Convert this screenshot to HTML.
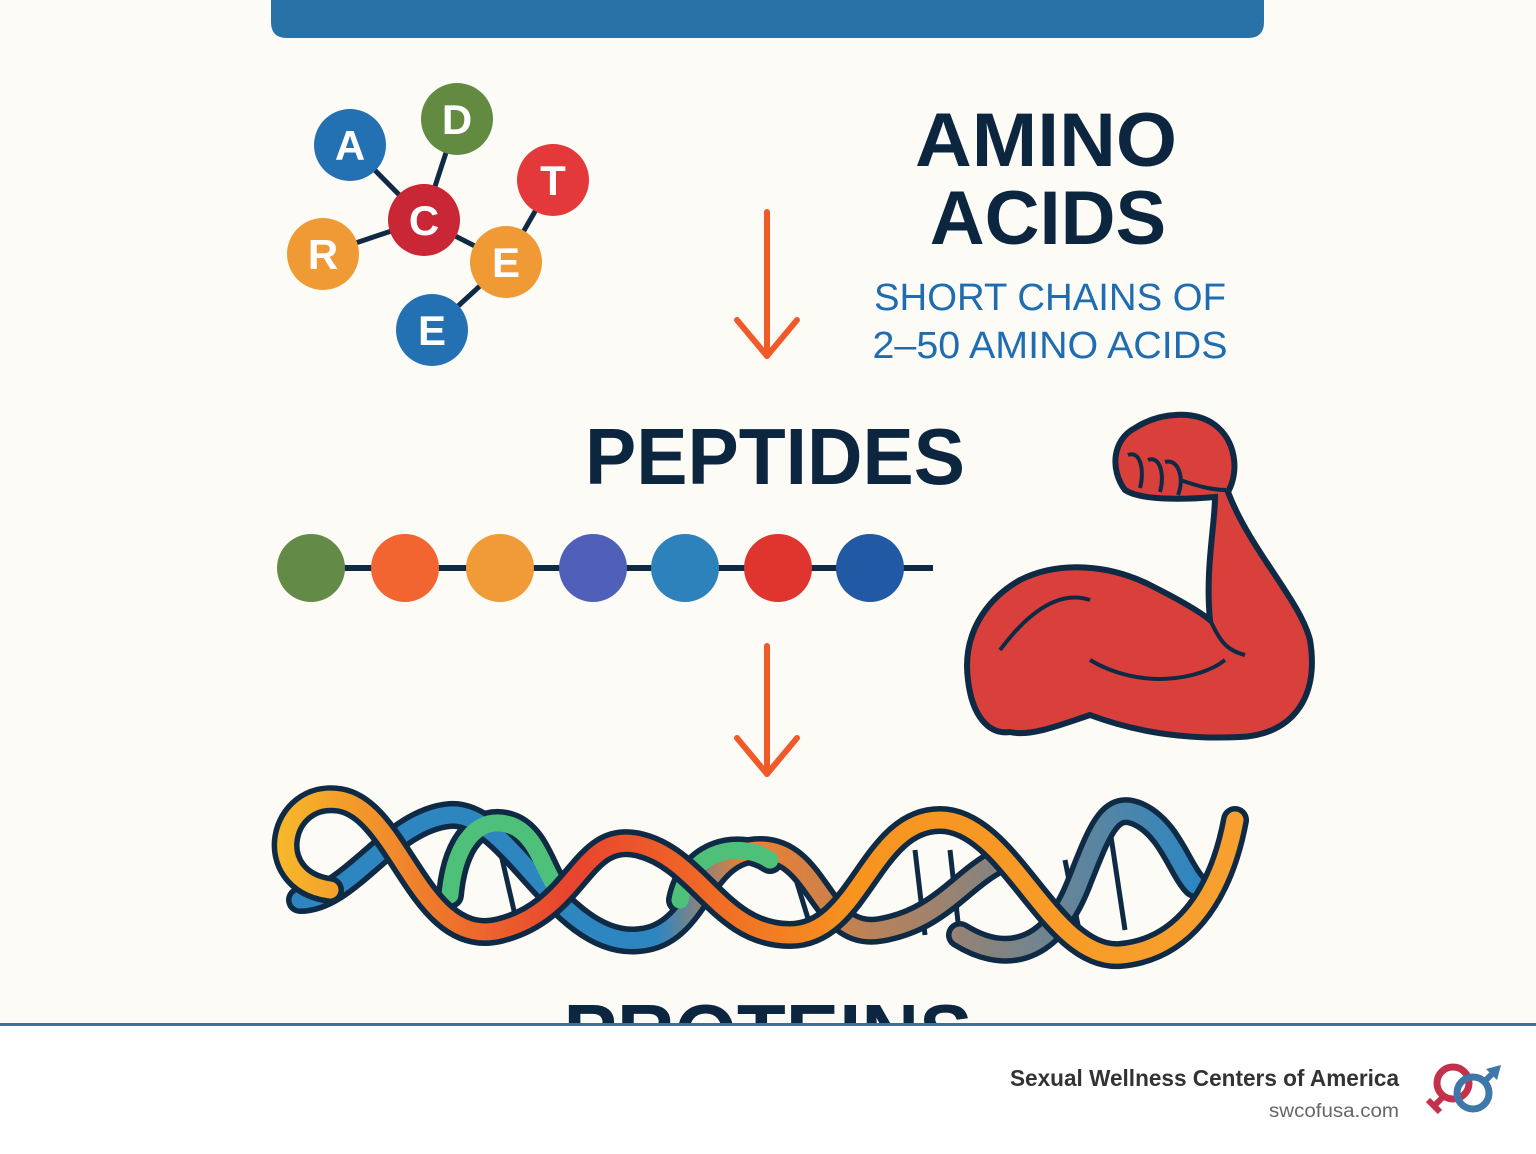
<!DOCTYPE html>
<html><head><meta charset="utf-8"><style>
html,body{margin:0;padding:0;background:#fcfbf6;}
svg{display:block}
</style></head><body>
<svg width="1536" height="1154" viewBox="0 0 1536 1154" xmlns="http://www.w3.org/2000/svg" font-family="Liberation Sans, sans-serif">
<rect width="1536" height="1154" fill="#fcfbf6"/>
<path d="M271,0 H1264 V22 Q1264,38 1248,38 H287 Q271,38 271,22 Z" fill="#2872a8"/>
<g stroke="#0f2a44" stroke-width="5">
<line x1="350" y1="145" x2="424" y2="220"/><line x1="457" y1="119" x2="424" y2="220"/>
<line x1="424" y1="220" x2="323" y2="254"/><line x1="424" y1="220" x2="506" y2="262"/>
<line x1="506" y1="262" x2="553" y2="180"/><line x1="506" y1="262" x2="432" y2="330"/>
</g>
<g font-weight="bold" font-size="42" fill="#fff" text-anchor="middle">
<circle cx="350" cy="145" r="36" fill="#2370b2"/><text x="350" y="160">A</text>
<circle cx="457" cy="119" r="36" fill="#628a40"/><text x="457" y="134">D</text>
<circle cx="553" cy="180" r="36" fill="#e4393a"/><text x="553" y="195">T</text>
<circle cx="424" cy="220" r="36" fill="#c92636"/><text x="424" y="235">C</text>
<circle cx="323" cy="254" r="36" fill="#ef9a35"/><text x="323" y="269">R</text>
<circle cx="506" cy="262" r="36" fill="#ef9a35"/><text x="506" y="277">E</text>
<circle cx="432" cy="330" r="36" fill="#2370b2"/><text x="432" y="345">E</text>
</g>
<g font-weight="bold" fill="#0d2640" text-anchor="middle">
<text x="1046" y="166" font-size="76" textLength="262" lengthAdjust="spacingAndGlyphs">AMINO</text>
<text x="1048" y="244" font-size="76">ACIDS</text>
<text x="775" y="484" font-size="80" textLength="380" lengthAdjust="spacingAndGlyphs">PEPTIDES</text>
<text x="768" y="1060" font-size="80">PROTEINS</text>
</g>
<g fill="#1f6db0" text-anchor="middle" font-size="38">
<text x="1050" y="310" textLength="352" lengthAdjust="spacingAndGlyphs">SHORT CHAINS OF</text>
<text x="1050" y="358" textLength="355" lengthAdjust="spacingAndGlyphs">2–50 AMINO ACIDS</text>
</g>
<g stroke="#f05a28" stroke-width="6" fill="none" stroke-linecap="round" stroke-linejoin="round">
<line x1="767" y1="212" x2="767" y2="356"/><polyline points="737,320 767,356 797,320"/>
<line x1="767" y1="646" x2="767" y2="774"/><polyline points="737,738 767,774 797,738"/>
</g>
<line x1="280" y1="568" x2="933" y2="568" stroke="#0f2a44" stroke-width="6"/>
<circle cx="311" cy="568" r="34" fill="#648a47"/><circle cx="405" cy="568" r="34" fill="#f26430"/>
<circle cx="500" cy="568" r="34" fill="#f09a38"/><circle cx="593" cy="568" r="34" fill="#5060b8"/>
<circle cx="685" cy="568" r="34" fill="#2e82bc"/><circle cx="778" cy="568" r="34" fill="#e0342e"/>
<circle cx="870" cy="568" r="34" fill="#2259a4"/>
<!-- arm -->
<path d="M1125,490 C1110,470 1112,440 1135,428 C1160,412 1195,410 1215,425 C1235,440 1240,470 1228,492 C1250,550 1300,600 1310,640 C1320,700 1290,735 1240,737 C1180,740 1130,730 1090,715 C1060,725 1030,737 1010,732 C988,735 972,715 968,680 C962,635 985,600 1020,580 C1060,560 1110,565 1150,585 C1180,600 1200,612 1210,620 C1205,570 1215,525 1215,497 C1180,500 1140,500 1125,490 Z" fill="#d9403c" stroke="#0f2a44" stroke-width="6"/>
<path d="M1128,455 C1140,450 1145,470 1140,488 M1148,460 C1160,455 1165,475 1160,492 M1165,462 C1178,458 1185,478 1178,495 M1180,480 C1195,485 1210,490 1226,490" fill="none" stroke="#0f2a44" stroke-width="4"/>
<path d="M1000,650 C1030,610 1060,590 1090,600 M1090,660 C1140,690 1200,680 1225,660 M1210,620 C1220,640 1225,650 1245,655" fill="none" stroke="#0f2a44" stroke-width="4"/>
<defs>
<linearGradient id="g1" x1="0" x2="1"><stop offset="0" stop-color="#f6b52a"/><stop offset=".3" stop-color="#e8432e"/><stop offset=".6" stop-color="#f7941e"/><stop offset="1" stop-color="#f7a030"/></linearGradient>
<linearGradient id="g2" x1="0" x2="1"><stop offset="0" stop-color="#2e86c1"/><stop offset=".4" stop-color="#2e86c1"/><stop offset=".5" stop-color="#f08030"/><stop offset="1" stop-color="#2e86c1"/></linearGradient>
</defs>
<g stroke="#0f2a44" stroke-width="5">
<line x1="500" y1="850" x2="515" y2="915"/><line x1="790" y1="860" x2="810" y2="925"/>
<line x1="915" y1="850" x2="925" y2="935"/><line x1="950" y1="850" x2="960" y2="940"/>
<line x1="1065" y1="860" x2="1080" y2="935"/><line x1="1110" y1="830" x2="1125" y2="930"/>
</g>
<g fill="none" stroke-linecap="round">
<path id="s1" d="M330,890 C260,880 280,790 340,800 C400,810 420,950 500,930 C580,910 580,830 640,845 C700,860 720,935 790,935 C860,935 870,820 940,820 C1010,820 1050,960 1120,955 C1180,950 1220,900 1235,820"/>
<path id="s2" d="M300,900 C350,900 390,820 450,815 C510,810 560,950 640,940 C700,935 700,850 760,850 C820,850 820,940 880,930 C940,920 960,880 1000,860 M960,935 C1000,960 1050,960 1080,880 C1100,830 1110,800 1140,815 C1170,830 1180,870 1195,885"/>
<path id="s3" d="M450,895 C455,840 480,815 510,825 C540,835 545,880 560,890 M680,900 C690,850 740,840 770,860"/>
</g>
<g fill="none" stroke="#0f2a44" stroke-width="28" stroke-linecap="round">
<use href="#s2"/><use href="#s3"/>
</g>
<use href="#s2" stroke="url(#g2)" stroke-width="17" fill="none" stroke-linecap="round"/>
<use href="#s3" stroke="#4fc07a" stroke-width="17" fill="none" stroke-linecap="round"/>
<g fill="none" stroke="#0f2a44" stroke-width="28" stroke-linecap="round"><use href="#s1"/></g>
<use href="#s1" stroke="url(#g1)" stroke-width="17" fill="none" stroke-linecap="round"/>
<rect x="0" y="1025" width="1536" height="129" fill="#ffffff"/>
<rect x="0" y="1023" width="1536" height="3" fill="#3d6fa0"/>
<text x="1399" y="1086" text-anchor="end" font-size="23" font-weight="bold" fill="#333" textLength="389" lengthAdjust="spacingAndGlyphs">Sexual Wellness Centers of America</text>
<text x="1399" y="1117" text-anchor="end" font-size="19" fill="#666" textLength="130" lengthAdjust="spacingAndGlyphs">swcofusa.com</text>
<circle cx="1453" cy="1083" r="16" fill="none" stroke="#c4314b" stroke-width="7"/>
<path d="M1443,1097 L1432,1108 M1428,1100 L1440,1112" stroke="#c4314b" stroke-width="6"/>
<circle cx="1473" cy="1093" r="16" fill="none" stroke="#3e78aa" stroke-width="7"/>
<path d="M1484,1082 L1497,1069" stroke="#3e78aa" stroke-width="6"/>
<polygon points="1501,1065 1486,1069 1497,1080" fill="#3e78aa"/>
</svg>
</body></html>
